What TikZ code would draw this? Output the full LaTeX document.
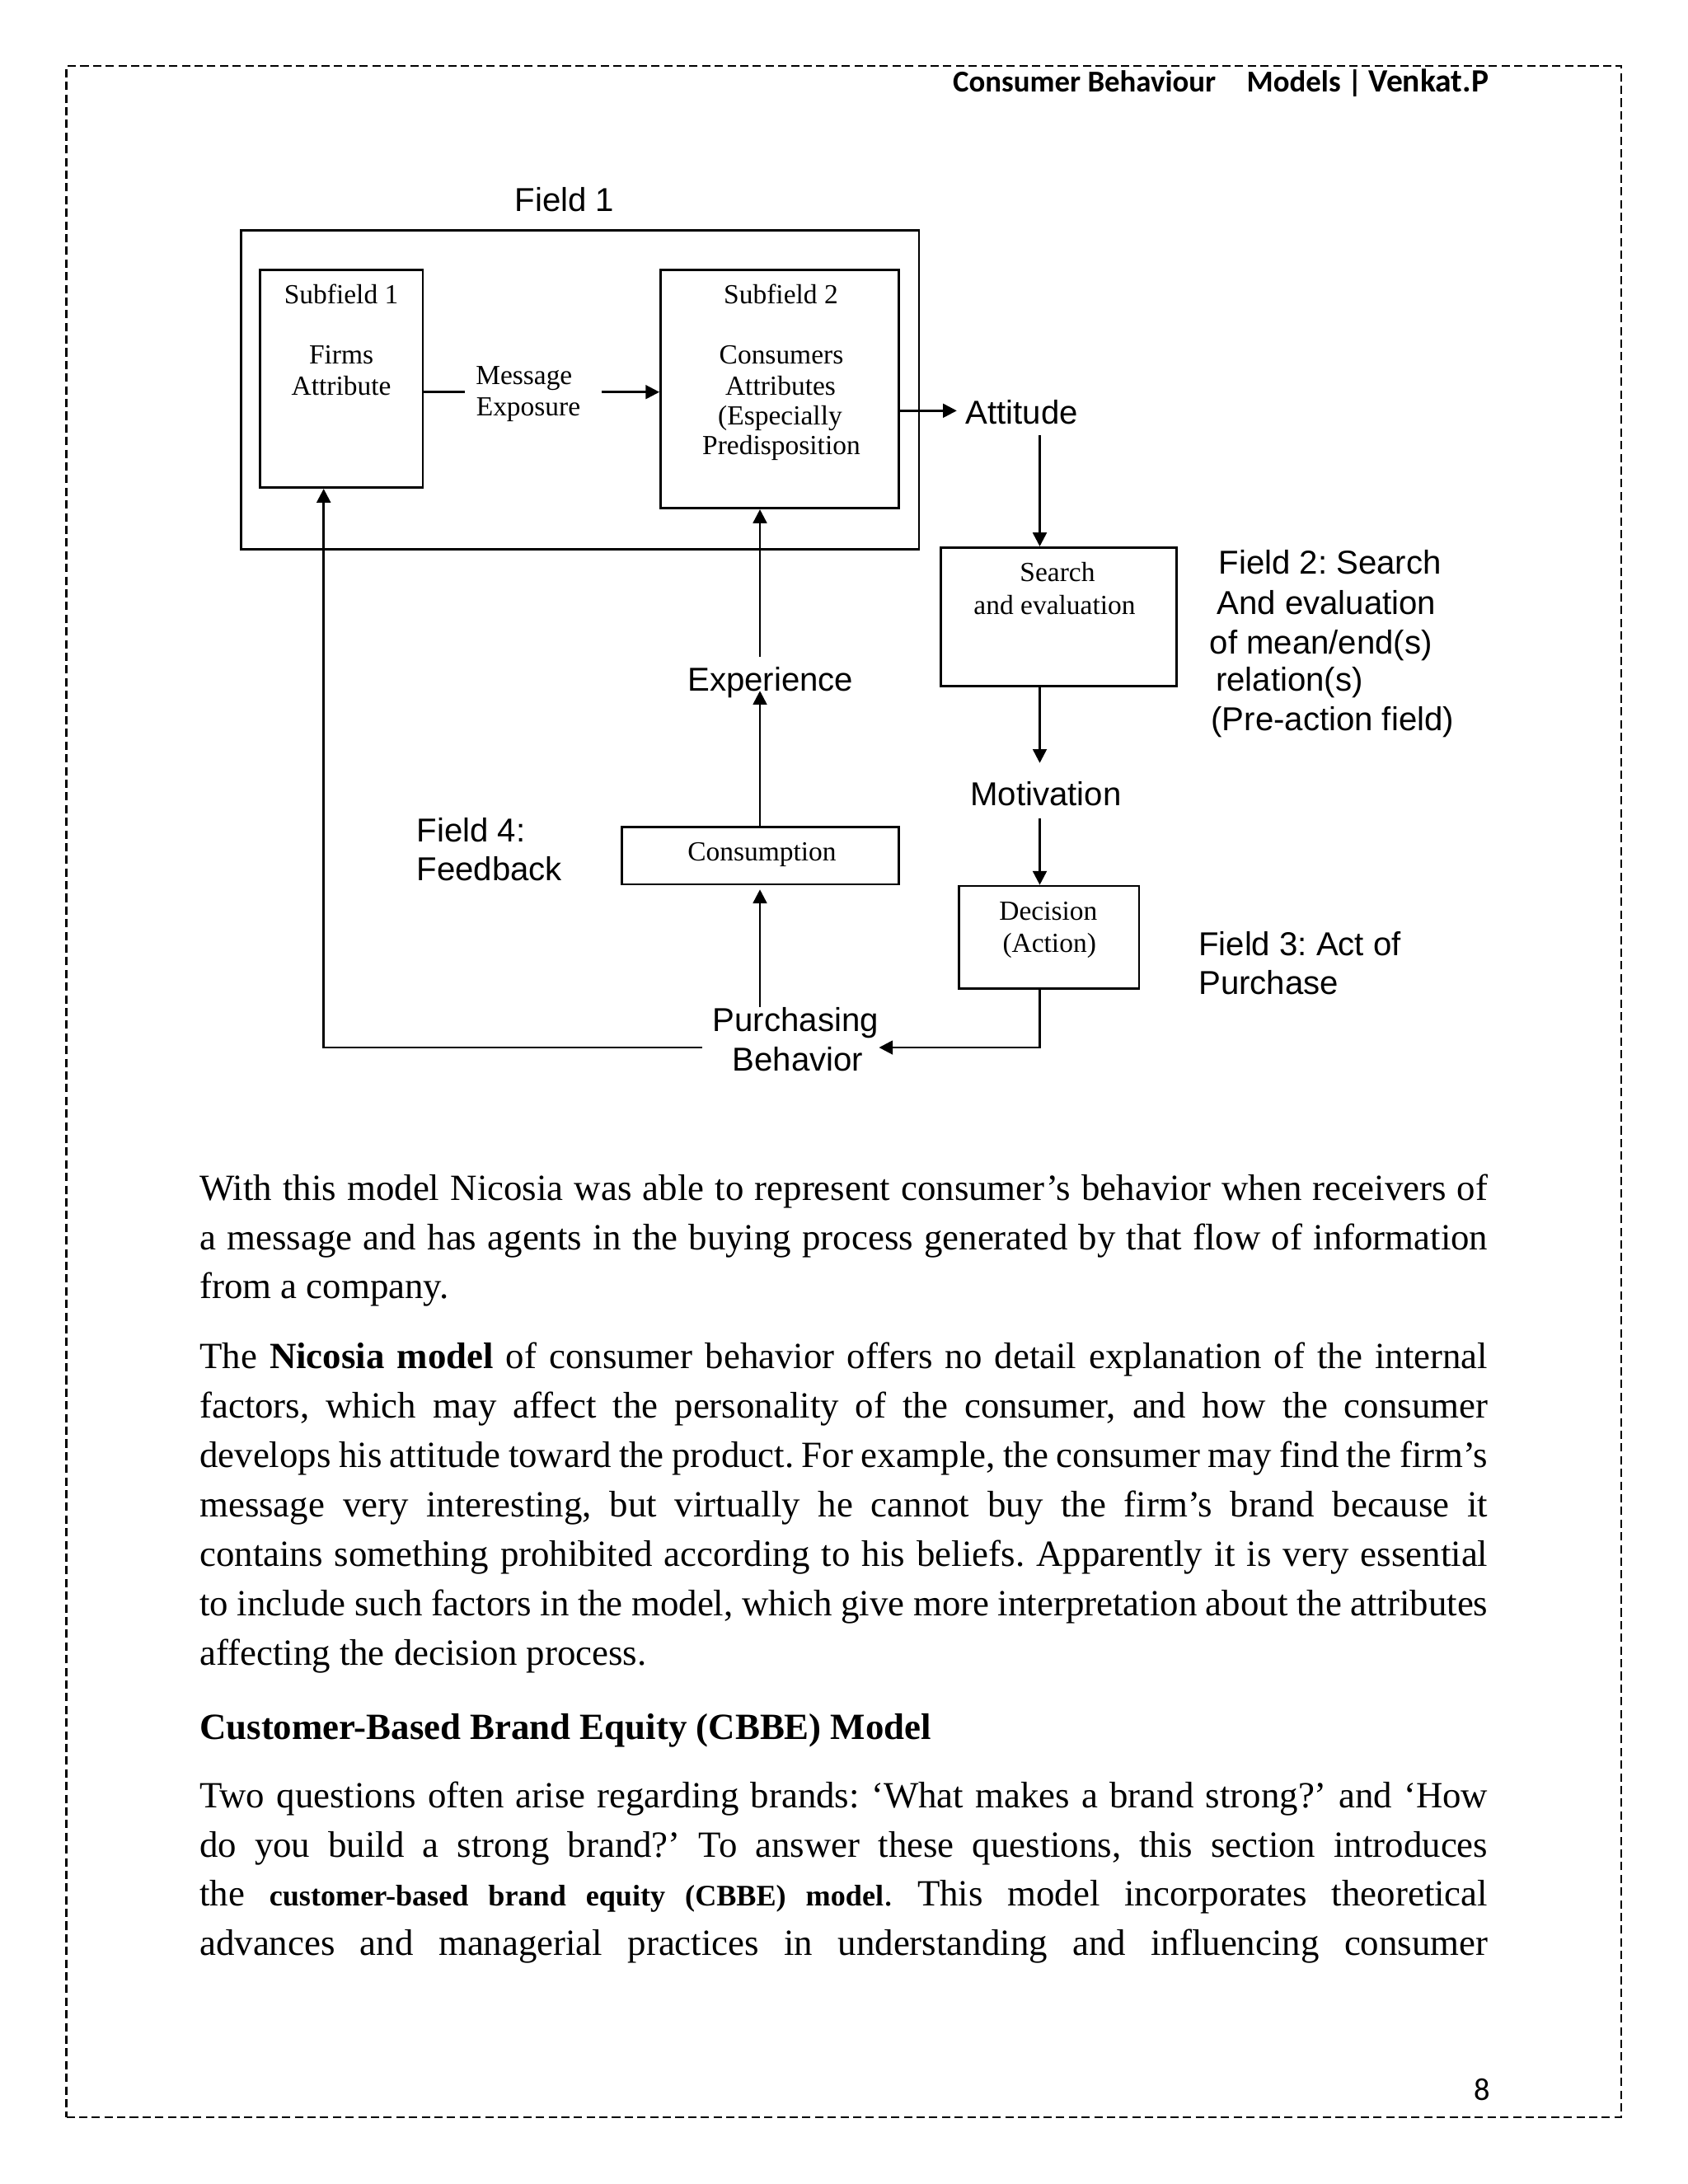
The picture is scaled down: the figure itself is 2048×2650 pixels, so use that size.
\documentclass[tikz,border=0pt]{standalone}
\usepackage{fontspec}
\setmainfont{Liberation Serif}
\newfontfamily\arialf{Liberation Sans}
\newfontfamily\calibf{Carlito}
\usetikzlibrary{arrows.meta,fit}
\newcommand\jl[1]{\makebox[467pt][s]{#1}}
\begin{document}
\frenchspacing
\begin{tikzpicture}[x=0.2988pt,y=-0.2988pt,
 box/.style={draw,line width=0.8pt,inner sep=0pt},
 frame/.style={draw,line width=0.7pt,dash pattern=on 3pt off 1.6pt,inner sep=0pt},
 conn/.style={line width=0.8pt},
 arr/.style={line width=0.8pt,-{Triangle[length=5pt,width=5pt]}},
 serif/.style={font=\fontsize{10}{11}\selectfont,inner sep=0pt,anchor=base},
 sans/.style={font=\arialf\fontsize{12}{14}\selectfont,inner sep=0pt,anchor=base},
 sansw/.style={sans,anchor=base west},
 body/.style={font=\fontsize{13.4}{18}\selectfont,inner sep=0pt,anchor=base west},
 hdr/.style={font=\calibf\bfseries\fontsize{11}{13}\selectfont,inner sep=0pt,anchor=base west}]
\fill[white] (0,0) rectangle (2048,2650);
\useasboundingbox (0,0) rectangle (2048,2650);

% page frame and header
\node[frame, fit={(80.5,80) (1967,2569)}] (page) {};
\node[hdr] (head) at (1155.5,111) {Consumer Behaviour\hspace{11.2pt}Models | {\fontsize{11.8}{13}\selectfont Venkat.P}};
\node[font=\calibf\fontsize{11.5}{13}\selectfont,inner sep=0pt,anchor=base] (pnum) at (1798,2548.3) {8};

% guide coordinates
\coordinate (colL) at (392.7,0);
\coordinate (colM) at (922,0);
\coordinate (colR) at (1261.5,0);
\coordinate (rowMsg) at (0,475.7);
\coordinate (rowAtt) at (0,498.3);
\coordinate (rowB) at (0,1271);

% boxes
\node[box, fit={(292.3,279.5) (1115,666.5)}] (f1) {};
\node[box, fit={(315.2,327.3) (513,591.7)}] (sf1) {};
\node[box, fit={(801.4,327.3) (1090.8,616.7)}] (sf2) {};
\node[box, fit={(1141.3,664.3) (1427.5,832.7)}] (search) {};
\node[box, fit={(754.6,1003.2) (1090.3,1072.9)}] (cons) {};
\node[box, fit={(1163.4,1075) (1382.1,1199.3)}] (dec) {};

% serif labels in boxes
\node[serif] (sf1a) at (414.1,368.3) {Subfield 1};
\node[serif] (sf1b) at (414.1,441.7) {Firms};
\node[serif] (sf1c) at (414.1,479.3) {Attribute};
\node[serif] (msga) at (635.8,466.7) {Message};
\node[serif] (msgb) at (641,504) {Exposure};
\node[serif] (sf2a) at (947.5,368.3) {Subfield 2};
\node[serif] (sf2b) at (948,441.7) {Consumers};
\node[serif] (sf2c) at (947,479.3) {Attributes};
\node[serif] (sf2d) at (946.5,515) {(Especially};
\node[serif] (sf2e) at (948,551.7) {Predisposition};
\node[serif] (sea) at (1283,705) {Search};
\node[serif] (seb) at (1279.5,745) {and evaluation};
\node[serif] (consT) at (924.5,1044.3) {Consumption};
\node[serif] (deca) at (1271.9,1116.7) {Decision};
\node[serif] (decb) at (1273.2,1155) {(Action)};

% sans labels
\node[sans] (field1) at (685,256) {Field 1};
\node[sansw] (att) at (1170.9,514) {Attitude};
\node[sansw] (f2a) at (1478,696.7) {Field 2: Search};
\node[sansw] (f2b) at (1476,745) {And evaluation};
\node[sansw] (f2c) at (1467,793.3) {of mean/end(s)};
\node[sansw] (f2d) at (1474.6,838.3) {relation(s)};
\node[sansw] (f2e) at (1468.8,886.7) {(Pre-action field)};
\node[sans] (mot) at (1269,977.6) {Motivation};
\node[sans] (exp) at (934.7,838.2) {Experience};
\node[sansw] (f4a) at (505,1021) {Field 4:};
\node[sansw] (f4b) at (505,1068.6) {Feedback};
\node[sans] (pura) at (965.3,1251.4) {Purchasing};
\node[sans] (purb) at (967.9,1299.6) {Behavior};
\node[sansw] (f3a) at (1453.6,1159.3) {Field 3: Act of};
\node[sansw] (f3b) at (1453.6,1206.7) {Purchase};

% connectors
\draw[conn,shorten >=4pt] (sf1.east |- rowMsg) -- (msgb.west |- rowMsg);
\draw[arr,shorten <=7.5pt] (msgb.east |- rowMsg) -- (sf2.west |- rowMsg);
\draw[arr,shorten >=3pt] (sf2.east |- rowAtt) -- (att.west |- rowAtt);
\draw[arr,shorten <=4pt] (att.south -| colR) -- (search.north -| colR);
\draw[arr,shorten >=6.6pt] (search.south -| colR) -- (mot.north -| colR);
\draw[arr,shorten <=4.3pt] (mot.south -| colR) -- (dec.north -| colR);
\draw[arr] (dec.south -| colR) -- (colR |- rowB) -- (pura.east |- rowB);
\draw[arr,shorten <=3.7pt] (pura.west |- rowB) -- (colL |- rowB) -- (sf1.south -| colL);
\draw[arr,shorten >=1.5pt] (pura.north -| colM) -- (cons.south -| colM);
\draw[arr] (cons.north -| colM) -- (exp.base -| colM);
\draw[arr,shorten <=3.3pt] (exp.north -| colM) -- (sf2.south -| colM);

% body text
\node[body] (l1) at (241.6,1456.7) {\jl{With this model Nicosia was able to represent consumer’s behavior when receivers of}};
\node[body] (l2) at (241.6,1516) {\jl{a message and has agents in the buying process generated by that flow of information}};
\node[body] (l3) at (241.6,1575) {from a company.};
\node[body] (l4) at (241.6,1660) {\jl{The \textbf{Nicosia model} of consumer behavior offers no detail explanation of the internal}};
\node[body] (l5) at (241.6,1720.5) {\jl{factors, which may affect the personality of the consumer, and how the consumer}};
\node[body] (l6) at (241.6,1780.5) {\jl{develops his attitude toward the product. For example, the consumer may find the firm’s}};
\node[body] (l7) at (241.6,1840.5) {\jl{message very interesting, but virtually he cannot buy the firm’s brand because it}};
\node[body] (l8) at (241.6,1900.5) {\jl{contains something prohibited according to his beliefs. Apparently it is very essential}};
\node[body] (l9) at (241.6,1960.5) {\jl{to include such factors in the model, which give more interpretation about the attributes}};
\node[body] (l10) at (241.6,2020.5) {affecting the decision process.};
\node[body] (hd) at (241.6,2110) {\textbf{Customer-Based Brand Equity (CBBE) Model}};
\node[body] (l11) at (241.6,2193) {\jl{Two questions often arise regarding brands: ‘What makes a brand strong?’ and ‘How}};
\node[body] (l12) at (241.6,2253) {\jl{do you build a strong brand?’ To answer these questions, this section introduces}};
\node[body] (l13) at (241.6,2312.5) {\jl{the {\fontsize{10.8}{12}\selectfont\bfseries customer-based brand equity (CBBE) model}. This model incorporates theoretical}};
\node[body] (l14) at (241.6,2372) {\jl{advances and managerial practices in understanding and influencing consumer}};
\end{tikzpicture}
\end{document}
